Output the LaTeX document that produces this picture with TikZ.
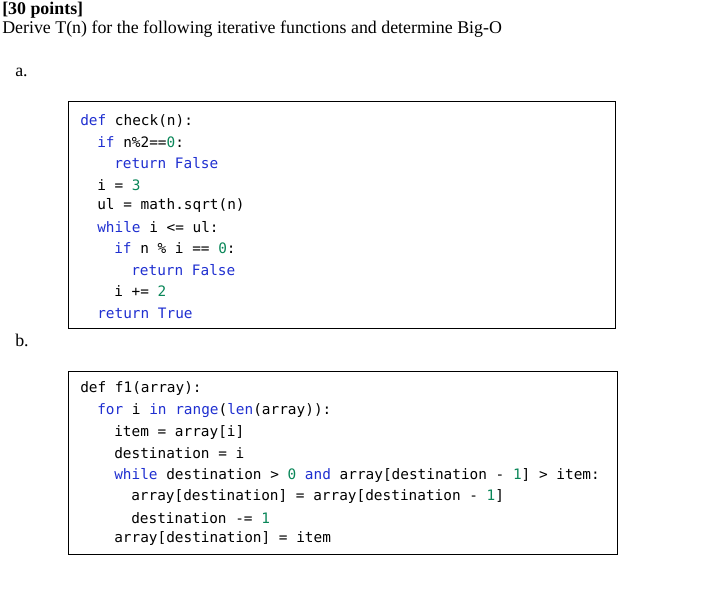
\documentclass[tikz,border=0pt]{standalone}
\usepackage{fontspec}
\setmainfont{Liberation Serif}
\newfontfamily\codefont{DejaVu Sans Mono}
\definecolor{kw}{HTML}{1F2FD0}
\definecolor{num}{HTML}{098658}
\newcommand{\K}[1]{\textcolor{kw}{#1}}
\newcommand{\N}[1]{\textcolor{num}{#1}}
\begin{document}
\begin{tikzpicture}[x=0.75pt,y=-0.75pt,
  txt/.style={anchor=west,inner sep=0pt,font=\fontsize{13.4}{15}\selectfont},
  code/.style={anchor=west,inner sep=0pt,font=\codefont\fontsize{10.8}{12}\selectfont},
  box/.style={draw,line width=0.6pt}]
\useasboundingbox (0,0) rectangle (727,609);
\node[txt,font=\bfseries\fontsize{13.4}{15}\selectfont] (h1) at (2,10) {[30 points]};
\node[txt] (h2) at (2,29) {Derive T(n) for the following iterative functions and determine Big-O};
\node[txt] (la) at (15,72) {a.};
\node[txt] (lb) at (15,340) {b.};
\draw[box] (68,101) rectangle (615,328);
\node[code] (a1) at (80,121) {\K{def} check(n):};
\node[code] (a2) at (97,142) {\K{if} n\%2==\N{0}:};
\node[code] (a3) at (114,163) {\K{return} \K{False}};
\node[code] (a4) at (97,185) {i = \N{3}};
\node[code] (a5) at (97,206) {ul = math.sqrt(n)};
\node[code] (a6) at (97,227) {\K{while} i <= ul:};
\node[code] (a7) at (114,248) {\K{if} n \% i == \N{0}:};
\node[code] (a8) at (131,270) {\K{return} \K{False}};
\node[code] (a9) at (114,291) {i += \N{2}};
\node[code] (a10) at (97,313) {\K{return} \K{True}};
\draw[box] (68,371) rectangle (617,554);
\node[code] (b1) at (80,389) {def f1(array):};
\node[code] (b2) at (97,411) {\K{for} i \K{in} \K{range}(\K{len}(array)):};
\node[code] (b3) at (114,433) {item = array[i]};
\node[code] (b4) at (114,453) {destination = i};
\node[code] (b5) at (114,475) {\K{while} destination > \N{0} \K{and} array[destination - \N{1}] > item:};
\node[code] (b6) at (131,497) {array[destination] = array[destination - \N{1}]};
\node[code] (b7) at (131,518) {destination -= \N{1}};
\node[code] (b8) at (114,539) {array[destination] = item};
\end{tikzpicture}
\end{document}
